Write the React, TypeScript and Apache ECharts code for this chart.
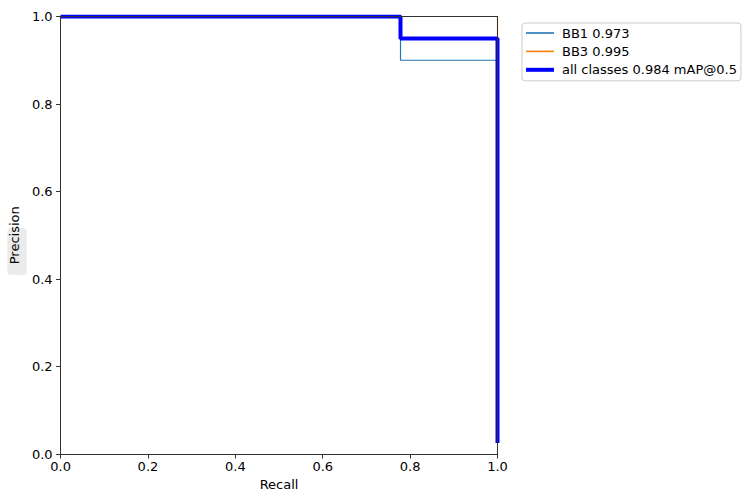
import { useEffect, useRef } from 'react'
import * as echarts from 'echarts'

// precision-recall steps
const RECALL_BB1 = [0, 0.778, 0.778, 1.0, 1.0]
const PRECISION_BB1 = [1.0, 1.0, 0.9, 0.9, 0.025]
const RECALL_BB3 = [0, 1.0, 1.0]
const PRECISION_BB3 = [1.0, 1.0, 0.025]
const RECALL_ALL = [0, 0.778, 0.778, 1.0, 1.0]
const PRECISION_ALL = [1.0, 1.0, 0.95, 0.95, 0.025]

const NAMES = ['BB1 0.973', 'BB3 0.995', 'all classes 0.984 mAP@0.5']
const COLORS = ['#1f77b4', '#ff7f0e', '#0000ff']
const WIDTHS = [1.2, 1.2, 4]
const LEGEND_WIDTHS = [1.6, 1.6, 4]

const FONT = 'DejaVu Sans'
const SPINE = { color: '#333', width: 1 }

const zip = (xs: number[], ys: number[]) => xs.map((x, i) => [x, ys[i]])

export default function App() {
  const ref = useRef<HTMLDivElement>(null)

  useEffect(() => {
    if (!ref.current) return
    const chart = echarts.init(ref.current, undefined, { renderer: 'svg' })

    const curves = [
      zip(RECALL_BB1, PRECISION_BB1),
      zip(RECALL_BB3, PRECISION_BB3),
      zip(RECALL_ALL, PRECISION_ALL),
    ]

    const axisCommon = {
      type: 'value' as const,
      min: 0,
      max: 1,
      interval: 0.2,
      z: 10,
      nameLocation: 'middle' as const,
      nameTextStyle: { color: '#000', fontSize: 13, fontFamily: FONT },
      axisLine: { show: true, onZero: false, lineStyle: SPINE },
      axisTick: { show: true, length: 4.5, lineStyle: SPINE },
      axisLabel: {
        color: '#000',
        fontSize: 13,
        fontFamily: FONT,
        formatter: (v: number) => v.toFixed(1),
      },
      splitLine: { show: false },
    }

    // top / right spines, drawn above the curves like matplotlib does
    const spineOnly = {
      type: 'value' as const,
      min: 0,
      max: 1,
      z: 10,
      axisLine: { show: true, onZero: false, lineStyle: SPINE },
      axisTick: { show: false },
      axisLabel: { show: false },
      splitLine: { show: false },
    }

    chart.setOption({
      animation: false,
      backgroundColor: '#fff',
      grid: {
        left: 58.5,
        top: 16.5,
        width: 439,
        height: 439,
      },
      xAxis: [
        {
          ...axisCommon,
          name: 'Recall',
          nameGap: 24,
          axisLabel: { ...axisCommon.axisLabel, margin: 6 },
        },
        { ...spineOnly, position: 'top' },
      ],
      yAxis: [
        {
          ...axisCommon,
          name: 'Precision',
          nameGap: 30.5,
          axisLabel: { ...axisCommon.axisLabel, margin: 8 },
        },
        { ...spineOnly, position: 'right' },
      ],
      legend: {
        orient: 'vertical',
        left: 522,
        top: 23,
        padding: [3, 4, 4, 4],
        itemWidth: 28,
        itemHeight: 14,
        itemGap: 4.4,
        backgroundColor: '#fff',
        borderColor: '#cccccc',
        borderWidth: 1,
        borderRadius: 3,
        textStyle: {
          color: '#000',
          fontSize: 13,
          fontFamily: FONT,
          lineHeight: 14,
          padding: [0, 0, 0, 3],
        },
        data: NAMES.map((name, i) => ({
          name,
          icon: `path://M0 0H28V${LEGEND_WIDTHS[i]}H0Z`,
          itemStyle: { color: COLORS[i], borderWidth: 0 },
        })),
      },
      graphic: [
        {
          type: 'rect',
          z: -1,
          shape: { x: 7.3, y: 228, width: 19.4, height: 47, r: 4 },
          style: { fill: '#ebebeb' },
        },
      ],
      series: curves.map((data, i) => ({
        type: 'line',
        name: NAMES[i],
        data,
        xAxisIndex: 0,
        yAxisIndex: 0,
        symbol: 'none',
        showSymbol: false,
        lineStyle: { color: COLORS[i], width: WIDTHS[i] },
        itemStyle: { color: COLORS[i] },
        z: 2 + i,
      })),
    })

    return () => {
      chart.dispose()
    }
  }, [])

  return (
    <div
      ref={ref}
      style={{ position: 'fixed', left: 0, top: 0, width: 752, height: 496 }}
    />
  )
}
